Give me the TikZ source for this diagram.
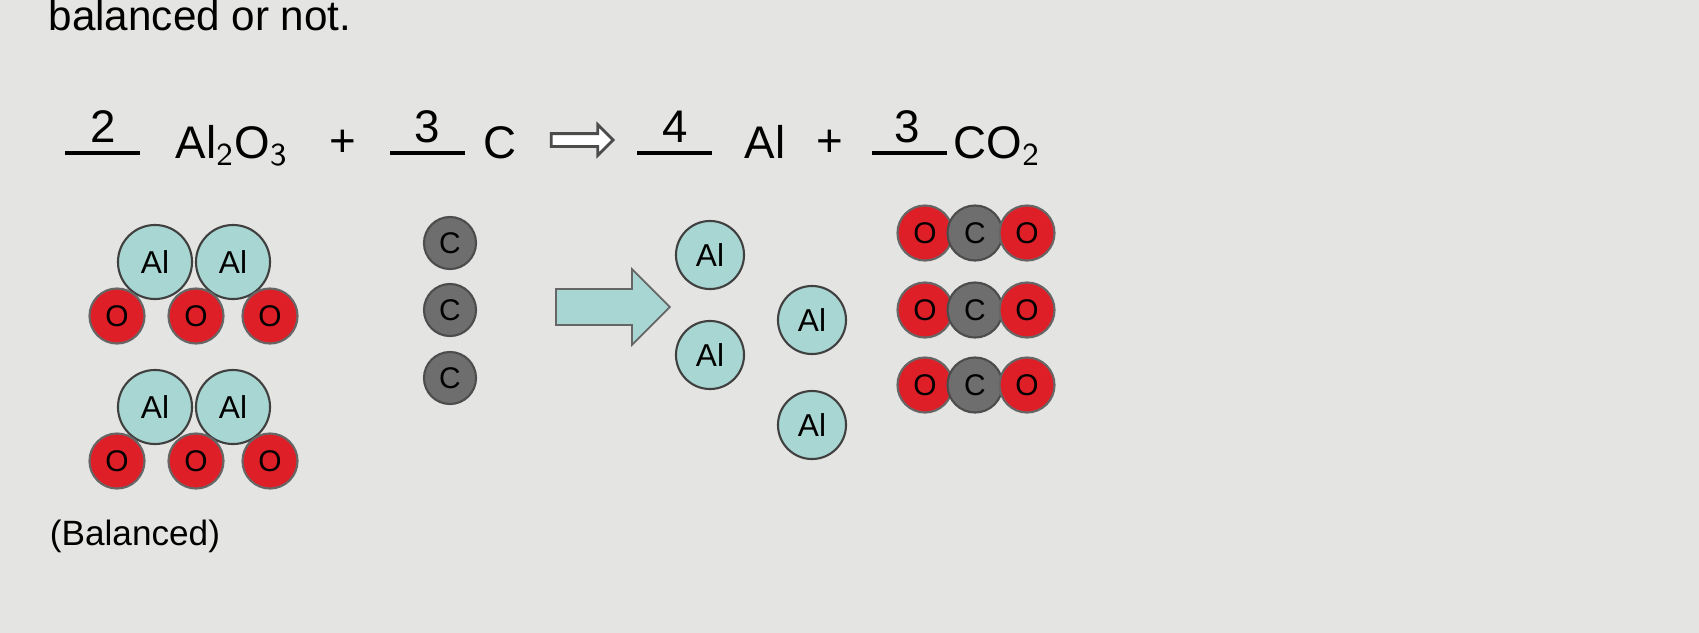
\documentclass[tikz,border=0pt]{standalone}
\usepackage{fontspec}
\setmainfont{Liberation Sans}
\usetikzlibrary{shapes.arrows}
\definecolor{bg}{HTML}{E4E4E2}
\definecolor{alc}{HTML}{A8D6D2}
\definecolor{oc}{HTML}{DE1F28}
\definecolor{cc}{HTML}{6E6E6E}
\begin{document}
\begin{tikzpicture}[x=0.01cm,y=-0.01cm,
  al/.style={circle,draw=black!75,line width=0.6pt,fill=alc,minimum size=0.74cm,inner sep=0pt,font=\fontsize{9}{10}\selectfont},
  ox/.style={circle,draw=black!60,line width=0.6pt,fill=oc,minimum size=0.55cm,inner sep=0pt,font=\fontsize{8.5}{9}\selectfont},
  cb/.style={circle,draw=black!70,line width=0.6pt,fill=cc,minimum size=0.52cm,inner sep=0pt,font=\fontsize{8.5}{9}\selectfont},
  eq/.style={inner sep=0pt,font=\fontsize{13}{15}\selectfont},
  ul/.style={line width=1pt}]
\fill[bg] (0,0) rectangle (1699,633);
\useasboundingbox (0,0) rectangle (1699,633);
\node[anchor=base west,inner sep=0pt,font=\fontsize{12}{14}\selectfont] (title) at (48,30) {balanced or not.};
% equation
\node[eq,anchor=base] (n1) at (103,142) {2};
\draw[ul] (65,153) -- (140,153);
\node[eq,anchor=base west] (r1) at (175,158) {Al$_{\mathsf{2}}$O$_{\mathsf{3}}$};
\node[eq,anchor=base] (p1) at (343,156) {+};
\node[eq,anchor=base] (n2) at (427,142) {3};
\draw[ul] (390,153) -- (465,153);
\node[eq,anchor=base] (r2) at (500,158) {C};
\node[single arrow,draw=black!70,fill=white,line width=0.8pt,minimum height=0.62cm,inner xsep=0pt,inner ysep=0.05cm,single arrow head extend=0.09cm] (ea) at (579,140) {};
\node[eq,anchor=base] (n3) at (675,142) {4};
\draw[ul] (637,153) -- (712,153);
\node[eq,anchor=base] (q1) at (765,158) {Al};
\node[eq,anchor=base] (p2) at (830,156) {+};
\node[eq,anchor=base] (n4) at (907,142) {3};
\draw[ul] (872,153) -- (947,153);
\node[eq,anchor=base west] (q2) at (953,158) {CO$_{\mathsf{2}}$};
% Al2O3 molecules
\foreach \y/\k in {262/a,407/b}{
  \node[al] (al1\k) at (155,\y) {Al};
  \node[al] (al2\k) at (233,\y) {Al};
  \node[ox] (o1\k) at (117,\y+54) {O};
  \node[ox] (o2\k) at (196,\y+54) {O};
  \node[ox] (o3\k) at (270,\y+54) {O};
}
% C atoms
\node[cb] (c1) at (450,243) {C};
\node[cb] (c2) at (450,310) {C};
\node[cb] (c3) at (450,378) {C};
% big arrow
\node[single arrow,fill=alc,draw=black!60,line width=0.5pt,minimum height=1.14cm,inner xsep=0pt,inner ysep=0.17cm,single arrow head extend=0.2cm,single arrow head indent=0pt] (bigarrow) at (604,307) {};
% Al atoms
\node[al,minimum size=0.68cm] (a1) at (710,255) {Al};
\node[al,minimum size=0.68cm] (a2) at (710,355) {Al};
\node[al,minimum size=0.68cm] (a3) at (812,320) {Al};
\node[al,minimum size=0.68cm] (a4) at (812,425) {Al};
% CO2
\foreach \y/\k in {233/a,310/b,385/c}{
  \node[ox] (co1\k) at (925,\y) {O};
  \node[cb,minimum size=0.55cm] (cc\k) at (975,\y) {C};
  \node[ox] (co2\k) at (1027,\y) {O};
}
\node[anchor=base,inner sep=0pt,font=\fontsize{10}{12}\selectfont] (bal) at (135,545) {(Balanced)};
\end{tikzpicture}
\end{document}
